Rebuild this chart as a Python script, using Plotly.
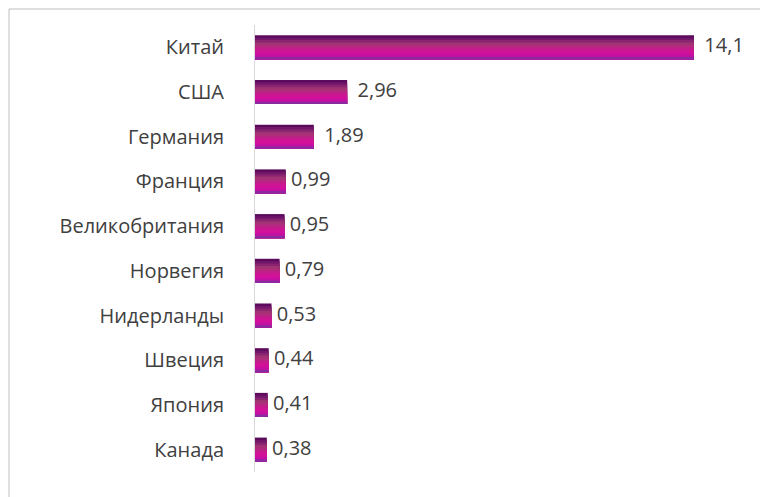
import plotly.graph_objects as go

countries = ["Китай", "США", "Германия", "Франция", "Великобритания", "Норвегия",
             "Нидерланды", "Швеция", "Япония", "Канада"]
values = [14.1, 2.96, 1.89, 0.99, 0.95, 0.79, 0.53, 0.44, 0.41, 0.38]
labels = ["  14,1", "  2,96", "  1,89", " 0,99", " 0,95", " 0,79", " 0,53", " 0,44", " 0,41", " 0,38"]

band_colors = ["#5c0a5c", "#72166a", "#8a2470", "#a03472", "#b02c7c", "#c21e8a",
               "#d01496", "#d1109c", "#c410a2", "#8a2aa0"]
total = 0.54
h = total / len(band_colors)

fig = go.Figure()
for i, c in enumerate(band_colors):
    fig.add_trace(go.Bar(
        y=countries, x=values, orientation="h",
        width=total - i * h, offset=-total / 2 + i * h,
        marker=dict(color=c, line=dict(width=0)),
        hoverinfo="skip", showlegend=False,
    ))
fig.add_trace(go.Scatter(
    y=countries, x=values, mode="text", text=labels, textposition="middle right",
    textfont=dict(family="Open Sans, DejaVu Sans", size=20, color="#404040"),
    showlegend=False, hoverinfo="skip", cliponaxis=False,
))

fig.update_layout(
    width=768, height=497, barmode="overlay",
    margin=dict(l=247, r=54, t=17, b=33),
    plot_bgcolor="white", paper_bgcolor="white",
    xaxis=dict(range=[0, 15], visible=False),
    yaxis=dict(autorange="reversed", showgrid=False, showline=True, automargin=False,
               linecolor="#d9d9d9", linewidth=1, ticks="", ticklabelstandoff=26,
               tickfont=dict(family="Open Sans, DejaVu Sans", size=20, color="#404040")),
    shapes=[dict(type="rect", xref="paper", yref="paper", x0=-246/467, x1=1+53/467,
                 y0=-32/447, y1=1+16/447, line=dict(color="#bfbfbf", width=1))],
)
fig.write_html("out.html")
